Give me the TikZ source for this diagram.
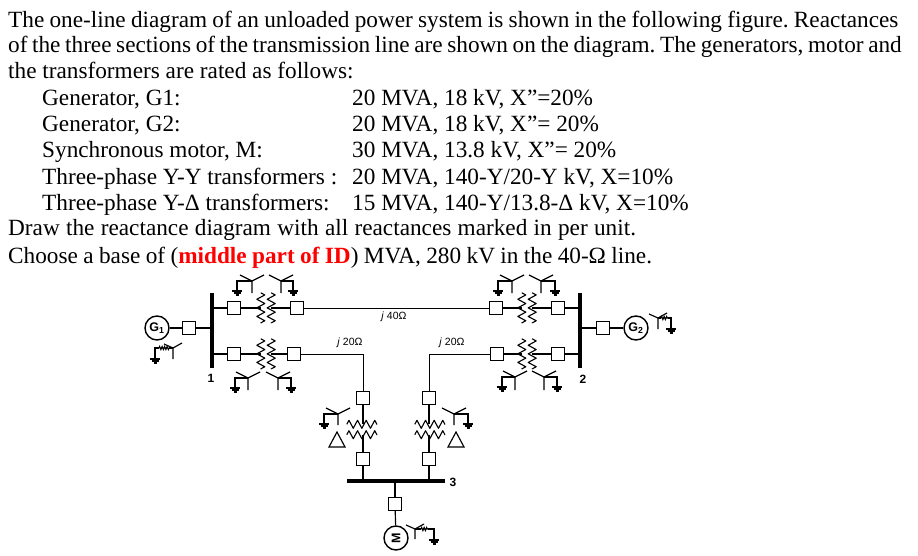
\documentclass[tikz,border=0pt]{standalone}
\usepackage{fontspec}
\setmainfont{Liberation Serif}
\setsansfont{Liberation Sans}
\usetikzlibrary{decorations.pathmorphing}

\tikzset{
    prose/.style={anchor=base west, inner sep=0pt, font=\fontsize{23.25}{26}\selectfont\frenchspacing},
    busbar/.style={line width=3.4pt},
    wire/.style={line width=1.15pt},
    feeder/.style={line width=0.8pt},
    breaker/.style={draw, line width=1.4pt, fill=white, minimum size=13pt, inner sep=0pt},
    machine/.style={circle, draw, line width=1.4pt, fill=white, minimum size=24pt, inner sep=0pt, font=\sffamily\bfseries\fontsize{12.5}{12.5}\selectfont},
    xfmrv/.style={minimum width=10pt, minimum height=30pt, inner sep=0pt},
    xfmrh/.style={minimum width=30pt, minimum height=10pt, inner sep=0pt},
    coil/.style={line width=1.1pt, line join=round, decorate, decoration={zigzag, segment length=8.6pt, amplitude=4pt}},
    rating/.style={font=\sffamily\fontsize{10.5}{10.5}\selectfont, inner sep=0pt},
    busname/.style={font=\sffamily\bfseries\fontsize{12}{12}\selectfont, inner sep=0pt}
}

% wye with its grounded neutral: centre, stem length, ground offset
\newcommand{\wye}[3]{
    \draw[wire] (#1) -- ++(-12,-6) (#1) -- ++(12,-6) (#1) -- ++(0,#2);
    \draw[wire] (#1) -- ++(#3,0) -- ++(0,10) coordinate (g);
    \draw[line width=1.3pt] ([xshift=-5pt]g) -- ([xshift=5pt]g)
        ([xshift=-3.5pt,yshift=-2pt]g) -- ([xshift=3.5pt,yshift=-2pt]g)
        ([xshift=-1.5pt,yshift=-4pt]g) -- ([xshift=1.5pt,yshift=-4pt]g);
}
% same, for a machine: neutral goes through a small resistor
\newcommand{\wyeres}[4]{
    \draw[wire] (#1) -- ++(-9,-4) (#1) -- ++(9,-5) (#1) -- ++(0,#2);
    \draw[wire] (#1) -- ++(#3,0) coordinate (r1);
    \draw[wire, decorate, decoration={zigzag, segment length=2.5pt, amplitude=1.5pt}] (r1) -- ++(#4,0) coordinate (r2);
    \draw[wire] (r2) -- ++(#3,0) -- ++(0,11) coordinate (g);
    \draw[line width=1.3pt] ([xshift=-5pt]g) -- ([xshift=5pt]g)
        ([xshift=-3.5pt,yshift=-2pt]g) -- ([xshift=3.5pt,yshift=-2pt]g)
        ([xshift=-1.5pt,yshift=-4pt]g) -- ([xshift=1.5pt,yshift=-4pt]g);
}

\begin{document}
\begin{tikzpicture}[x=1pt, y=-1pt]
    \useasboundingbox (0,0) rectangle (918,556);

    % problem statement
    \node[prose] (line1) at (8,28) {\spaceskip=5.25pt The one-line diagram of an unloaded power system is shown in the following figure. Reactances};
    \node[prose] (line2) at (8,53) {\spaceskip=4.6pt of the three sections of the transmission line are shown on the diagram. The generators, motor and};
    \node[prose] (line3) at (8,79) {the transformers are rated as follows:};
    \node[prose] (namea) at (42,106) {Generator, G1:};
    \node[prose] (nameb) at (42,132) {Generator, G2:};
    \node[prose] (namec) at (42,158) {Synchronous motor, M:};
    \node[prose] (named) at (42,185) {Three-phase Y-Y transformers :};
    \node[prose] (namee) at (42,211) {Three-phase Y-Δ transformers:};
    \node[prose] (ratea) at (352,106) {20 MVA, 18 kV, X”=20\%};
    \node[prose] (rateb) at (352,132) {20 MVA, 18 kV, X”= 20\%};
    \node[prose] (ratec) at (352,158) {30 MVA, 13.8 kV, X”= 20\%};
    \node[prose] (rated) at (352,185) {20 MVA, 140-Y/20-Y kV, X=10\%};
    \node[prose] (ratee) at (352,211) {15 MVA, 140-Y/13.8-Δ kV, X=10\%};
    \node[prose] (line4) at (8,236) {\spaceskip=6.3pt Draw the reactance diagram with all reactances marked in per unit.};
    \node[prose] (line5) at (8,263) {\spaceskip=5.4pt Choose a base of (\textcolor{red}{\textbf{middle part of ID}}) MVA, 280 kV in the 40-Ω line.};

    % buses
    \coordinate (busA1) at (212,293);
    \coordinate (busA2) at (212,368);
    \coordinate (busB1) at (580,293);
    \coordinate (busB2) at (580,368);
    \coordinate (busC1) at (347,481);
    \coordinate (busC2) at (445,481);
    \draw[busbar] (busA1) -- (busA2);
    \draw[busbar] (busB1) -- (busB2);
    \draw[busbar] (busC1) -- (busC2);
    \node[busname] (nameA) at (211,378) {1};
    \node[busname] (nameB) at (583,379) {2};
    \node[busname] (nameC) at (453,482) {3};

    % machines
    \node[machine] (genA) at (157,328) {G\textsubscript{1}};
    \node[machine] (genB) at (636,328) {G\textsubscript{2}};
    \node[machine] (motor) at (396,538) {\rotatebox{90}{M}};

    % transformers
    \node[xfmrv] (xfA) at (266,308) {};
    \node[xfmrv] (xfB) at (527,308) {};
    \node[xfmrv] (xfC) at (266,354) {};
    \node[xfmrv] (xfD) at (527,354) {};
    \node[xfmrh] (xfE) at (362,429.5) {};
    \node[xfmrh] (xfF) at (430,429.5) {};
    \foreach \xf in {xfA,xfB,xfC,xfD} {
        \draw[coil] (\xf.north west) -- (\xf.south west);
        \draw[coil] (\xf.north east) -- (\xf.south east);
    }
    \foreach \xf in {xfE,xfF} {
        \draw[coil] (\xf.north west) -- (\xf.north east);
        \draw[coil] (\xf.south west) -- (\xf.south east);
    }

    % breakers
    \node[breaker] (brGA) at (189,328) {};
    \node[breaker] (brGB) at (603,328) {};
    \node[breaker] (brA1) at (234,308) {};
    \node[breaker] (brA2) at (297,308) {};
    \node[breaker] (brB1) at (496,308) {};
    \node[breaker] (brB2) at (558,308) {};
    \node[breaker] (brC1) at (234,354) {};
    \node[breaker] (brC2) at (294,354) {};
    \node[breaker] (brD1) at (497,354) {};
    \node[breaker] (brD2) at (558,354) {};
    \node[breaker] (brE1) at (363,398) {};
    \node[breaker] (brE2) at (363,459) {};
    \node[breaker] (brF1) at (429,398) {};
    \node[breaker] (brF2) at (429,459) {};
    \node[breaker] (brM) at (395,504) {};

    % connections
    \draw[wire] (genA) -- (brGA);
    \draw[wire] (brGA) -- (brGA -| busA1);
    \draw[wire] (genB) -- (brGB);
    \draw[wire] (brGB) -- (brGB -| busB1);
    \draw[wire] (brA1 -| busA1) -- (brA1);
    \draw[wire] (brA1) -- (xfA);
    \draw[wire] (xfA) -- (brA2);
    \draw[feeder] (brA2) -- (brB1);
    \draw[wire] (brB1) -- (xfB);
    \draw[wire] (xfB) -- (brB2);
    \draw[wire] (brB2) -- (brB2 -| busB1);
    \draw[wire] (brC1 -| busA1) -- (brC1);
    \draw[wire] (brC1) -- (xfC);
    \draw[wire] (xfC) -- (brC2);
    \draw[feeder] (brC2) -| (brE1);
    \draw[feeder] (brD1) -| (brF1);
    \draw[wire] (brD1) -- (xfD);
    \draw[wire] (xfD) -- (brD2);
    \draw[wire] (brD2) -- (brD2 -| busB1);
    \draw[wire] (brE1) -- (brE1 |- xfE.north);
    \draw[wire] (brE2 |- xfE.south) -- (brE2);
    \draw[wire] (brE2) -- (brE2 |- busC1);
    \draw[wire] (brF1) -- (brF1 |- xfF.north);
    \draw[wire] (brF2 |- xfF.south) -- (brF2);
    \draw[wire] (brF2) -- (brF2 |- busC1);
    \draw[wire] (brM |- busC1) -- (brM);
    \draw[wire] (brM) -- (motor);

    % line reactances
    \node[rating] (lblA) at (394,317) {\textit{j} 40Ω};
    \node[rating] (lblB) at (350,343) {\textit{j} 20Ω};
    \node[rating] (lblC) at (452,343) {\textit{j} 20Ω};

    % wye points
    \coordinate (wyA1) at (252,281);
    \coordinate (wyA2) at (281,281);
    \coordinate (wyB1) at (512,281);
    \coordinate (wyB2) at (541,281);
    \coordinate (wyC1) at (248,378);
    \coordinate (wyC2) at (278,378);
    \coordinate (wyD1) at (515,377);
    \coordinate (wyD2) at (544,377);
    \coordinate (wyE) at (338,414);
    \coordinate (wyF) at (454,414);
    \wye{wyA1}{12}{-15}
    \wye{wyA2}{12}{12}
    \wye{wyB1}{12}{-14}
    \wye{wyB2}{12}{14}
    \wye{wyC1}{12}{-13}
    \wye{wyC2}{12}{13}
    \wye{wyD1}{13}{-13}
    \wye{wyD2}{13}{13}
    \wye{wyE}{11}{-14}
    \wye{wyF}{11}{14}

    % machine neutrals
    \coordinate (wyGA) at (173,348);
    \coordinate (wyGB) at (658,318);
    \coordinate (wyM) at (415,529);
    \wyeres{wyGA}{11}{-4}{-10}
    \wyeres{wyGB}{11}{3}{7}
    \wyeres{wyM}{10}{6}{7}

    % deltas
    \coordinate (dlE) at (337,432);
    \coordinate (dlF) at (456,432);
    \draw[wire] (dlE) -- ++(-8,15) -- ++(16,0) -- cycle;
    \draw[wire] (dlF) -- ++(-8,15) -- ++(16,0) -- cycle;
\end{tikzpicture}
\end{document}
